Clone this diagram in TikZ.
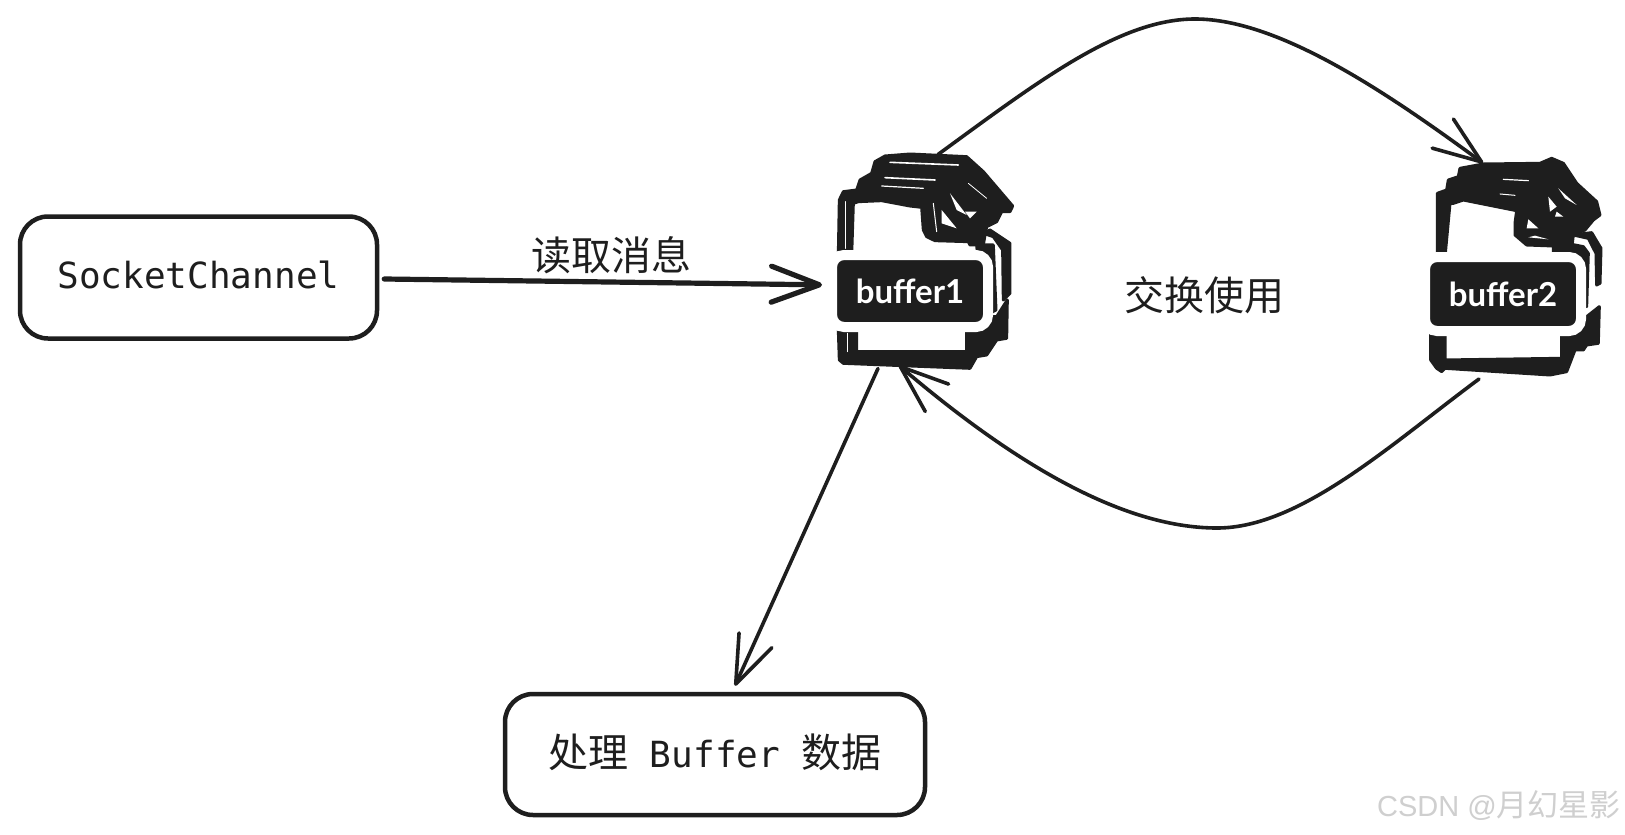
\documentclass[tikz,border=0pt]{standalone}
\usepackage{fontspec}
\usetikzlibrary{arrows.meta,calc}
\setmainfont{Lato}
\newfontfamily\cjkf{Noto Sans CJK SC}
\newfontfamily\monof{DejaVu Sans Mono}
\newfontfamily\wmf{Liberation Sans}
\definecolor{ink}{HTML}{1E1E1E}
\definecolor{wm}{HTML}{CFCFCF}
\tikzset{
  sketchbox/.style={draw=ink,line width=4.5pt,rounded corners=28pt,fill=white,inner sep=0pt,text=ink},
  conn/.style={draw=ink,line width=3.6pt,line cap=round,line join=round},
  barb/.style={-{Straight Barb[length=48pt,width=36pt,line cap=round,line join=round]}},
  inkblob/.style={fill=ink,draw=ink,line width=3pt,line join=round},
  streak/.style={draw=white,line cap=round},
  tri/.style={fill=white},
  tagbox/.style={fill=ink,draw=white,line width=10pt,text=white,rounded corners=12pt,inner sep=0pt,outer sep=10pt,font=\fontsize{33}{33}\selectfont\bfseries},
  ghost/.style={inner sep=0pt,outer sep=0pt},
  captext/.style={text=ink,inner sep=0pt,font=\cjkf\fontsize{40}{40}\selectfont},
  monotext/.style={font=\monof\fontsize{36}{36}\selectfont}
}
\begin{document}
\begin{tikzpicture}[x=1pt,y=-1pt]
\useasboundingbox (0,0) rectangle (1625,835);
\fill[white] (0,0) rectangle (1625,835);

\node[sketchbox,minimum width=357pt,minimum height=122pt] (sock) at (198.5,277.5) {};
\node[monotext,text=ink,inner sep=0pt] (socktext) at (198.5,274.5) {SocketChannel};
\node[sketchbox,minimum width=420pt,minimum height=121pt] (proc) at (715,754.5) {};
\node[monotext,text=ink,inner sep=0pt] (proctext) at (715,752)
  {{\cjkf\fontsize{40}{40}\selectfont 处理} Buffer {\cjkf\fontsize{40}{40}\selectfont 数据}};

% buffer1 icon
\begin{scope}[shift={(810,130)},x=0.3333pt,y=-0.3333pt]
\path[inkblob] (85,375)--(88,210)--(100,185)--(140,180)--(150,150)--(185,130)--(195,95)--(225,78)--(300,72)--(470,80)--(520,125)--(608,228)--(600,245)--(575,245)--(560,275)--(530,290)--(525,315)--(520,345)--(480,345)--(475,335)--(375,332)--(350,320)--(340,300)--(335,232)--(300,228)--(215,212)--(145,215)--(130,220)--(125,375)--cycle;
\path[inkblob] (520,310)--(540,300)--(600,340)--(600,490)--(580,510)--(578,360)--(550,320)--cycle;
\path[inkblob] (500,345)--(550,345)--(558,540)--(520,560)--cycle;
\path[inkblob] (85,600)--(88,690)--(100,700)--(480,715)--(500,680)--(530,675)--(560,630)--(590,625)--(592,510)--(560,560)--(545,560)--(520,600)--(470,600)--(470,665)--(140,665)--(140,600)--cycle;
\draw[streak,line width=1.6pt] (240,97)--(445,105);
\draw[streak,line width=1.6pt] (225,143)--(375,150);
\draw[streak,line width=1.2pt] (215,168)--(340,175);
\draw[streak,line width=1pt] (105,215)--(105,355);
\draw[streak,line width=1pt] (370,220)--(380,305);
\draw[streak,line width=1pt] (113,610)--(113,665);
\draw[streak,line width=0.8pt] (475,160)--(530,205);
\fill[tri] (395,240)--(440,295)--(395,280)--cycle;
\fill[tri] (420,190)--(470,255)--(440,240)--cycle;
\fill[tri] (465,245)--(500,245)--(480,265)--cycle;
\end{scope}

% buffer2 icon
\begin{scope}[shift={(1400,120)},x=0.3333pt,y=-0.3333pt]
\path[inkblob] (112,410)--(112,220)--(140,210)--(145,180)--(175,170)--(180,145)--(250,132)--(420,130)--(455,115)--(490,130)--(530,190)--(590,245)--(600,285)--(580,300)--(555,330)--(520,345)--(515,385)--(490,395)--(460,395)--(460,378)--(380,375)--(345,345)--(345,310)--(350,272)--(190,240)--(160,250)--(150,250)--(135,410)--cycle;
\path[inkblob] (520,345)--(575,338)--(603,385)--(600,490)--(590,495)--(588,400)--(565,355)--cycle;
\path[inkblob] (500,370)--(550,380)--(565,400)--(560,560)--(530,520)--cycle;
\path[inkblob] (92,640)--(135,640)--(135,720)--(485,715)--(485,640)--(520,620)--(550,600)--(560,590)--(598,560)--(595,670)--(560,675)--(550,690)--(525,690)--(500,755)--(450,765)--(135,745)--(125,755)--(110,745)--(92,720)--cycle;
\draw[streak,line width=1.2pt] (310,178)--(385,182);
\draw[streak,line width=1pt] (300,222)--(345,226);
\fill[tri] (385,298)--(415,325)--(380,325)--cycle;
\fill[tri] (445,230)--(470,260)--(450,275)--cycle;
\fill[tri] (475,205)--(530,255)--(495,235)--cycle;
\fill[tri] (470,275)--(490,290)--(465,290)--cycle;
\fill[tri] (405,347)--(445,358)--(385,352)--cycle;
\end{scope}

\node[tagbox,minimum width=156pt,minimum height=72pt] (lab1) at (910,291) {buffer1};
\node[tagbox,minimum width=156pt,minimum height=74pt] (lab2) at (1503,294) {buffer2};
\node[ghost,minimum width=200pt,minimum height=215pt] (ic1) at (938,262) {};
\node[ghost,minimum width=170pt,minimum height=216pt] (ic2) at (1483,271) {};

% connectors
\draw[conn,barb,line width=5.2pt] ($(sock.east)+(5,1.5)$) -- ($(lab1.176)$);
\draw[conn,barb] (ic1.north) .. controls (1040,80) and (1120,19) .. (1195,19) .. controls (1280,19) and (1390,95) .. (ic2.north);
\draw[conn,barb] ($(ic2.south)+(-4,0)$) .. controls (1390,445) and (1300,528) .. (1217,528) .. controls (1120,528) and (1010,460) .. ($(ic1.south)+(-39,-4)$);
\draw[conn,barb] ($(ic1.south)+(-60,-1)$) -- ($(proc.north)+(20,-6)$);

% labels
\node[captext] (t1) at (611.5,255) {读取消息};
\node[captext] (t2) at (1204,295) {交换使用};
\node[anchor=east,inner sep=0pt,text=wm,font=\wmf\fontsize{29}{29}\selectfont] (wmk) at (1621,806) {CSDN @{\cjkf\fontsize{31}{31}\selectfont 月幻星影}};
\end{tikzpicture}
\end{document}
